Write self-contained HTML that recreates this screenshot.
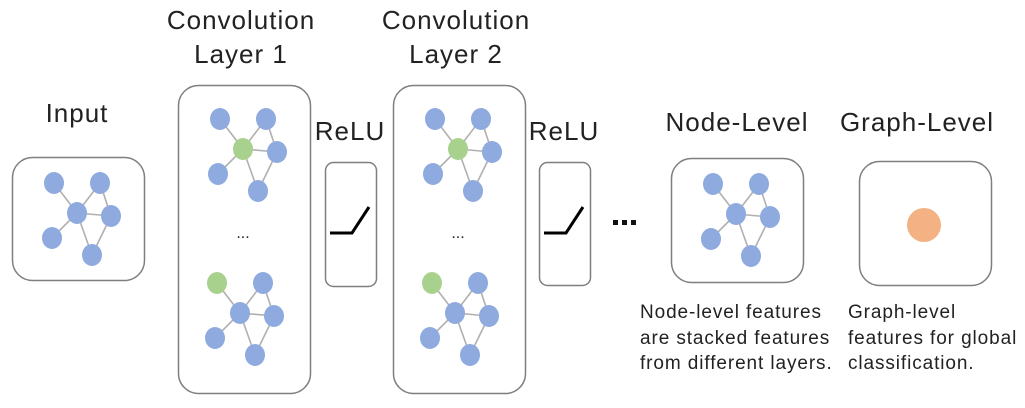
<!DOCTYPE html>
<html><head><meta charset="utf-8"><style>
html,body{margin:0;padding:0;background:#fff;}
svg{display:block;}
text{font-family:"Liberation Sans","Noto Sans CJK SC",sans-serif;fill:#222;}
</style></head><body>
<svg width="1025" height="408" viewBox="0 0 1025 408" xmlns="http://www.w3.org/2000/svg">
<defs>
<g id="edges" stroke="#b0b0b0" stroke-width="1.6">
<line x1="-23" y1="-30" x2="0" y2="0"/><line x1="23" y1="-30" x2="0" y2="0"/>
<line x1="23" y1="-30" x2="34" y2="3"/><line x1="0" y1="0" x2="34" y2="3"/>
<line x1="0" y1="0" x2="-25" y2="25"/><line x1="0" y1="0" x2="15" y2="42"/>
<line x1="34" y1="3" x2="15" y2="42"/>
</g>
<g id="nodesBCDEF" fill="#8eaadf">
<ellipse cx="23" cy="-30" rx="10" ry="11"/>
<ellipse cx="34" cy="3" rx="10" ry="11"/>
<ellipse cx="-25" cy="25" rx="10" ry="11"/>
<ellipse cx="15" cy="42" rx="10" ry="11"/>
</g>
<g id="g"><use href="#edges"/><use href="#nodesBCDEF"/>
<ellipse cx="-23" cy="-30" rx="10" ry="11" fill="#8eaadf"/><ellipse cx="0" cy="0" rx="10" ry="11" fill="#8eaadf"/></g>
<g id="gC"><use href="#edges"/><use href="#nodesBCDEF"/>
<ellipse cx="-23" cy="-30" rx="10" ry="11" fill="#8eaadf"/><ellipse cx="0" cy="0" rx="10" ry="11" fill="#a9d18e"/></g>
<g id="gA"><use href="#edges"/><use href="#nodesBCDEF"/>
<ellipse cx="-23" cy="-30" rx="10" ry="11" fill="#a9d18e"/><ellipse cx="0" cy="0" rx="10" ry="11" fill="#8eaadf"/></g>
</defs>
<g fill="none" stroke="#7f7f7f" stroke-width="1.5">
<rect x="12.5" y="157.5" width="132" height="123" rx="20"/>
<rect x="178.5" y="85.5" width="132" height="308" rx="20"/>
<rect x="325.5" y="162.5" width="51" height="124" rx="8"/>
<rect x="393.5" y="85.5" width="132" height="308" rx="20"/>
<rect x="539.5" y="162.5" width="51" height="123" rx="8"/>
<rect x="671.5" y="158.5" width="132" height="124" rx="20"/>
<rect x="859.5" y="161.5" width="132" height="124" rx="20"/>
</g>
<use href="#g" x="77" y="213"/>
<use href="#gC" x="243" y="149"/>
<use href="#gA" x="240" y="313"/>
<use href="#gC" x="458" y="149"/>
<use href="#gA" x="455" y="313"/>
<use href="#g" x="736" y="214"/>
<circle cx="924" cy="225" r="17" fill="#f4b183"/>
<polyline points="330,233 352,233 369,207" fill="none" stroke="#000" stroke-width="3"/>
<polyline points="544,233 566,233 583,207" fill="none" stroke="#000" stroke-width="3"/>
<text x="243" y="238" font-size="16" text-anchor="middle">...</text>
<text x="458" y="238" font-size="16" text-anchor="middle">...</text>
<g fill="#111"><rect x="613" y="220" width="5" height="5"/><rect x="622" y="220" width="5" height="5"/><rect x="631" y="220" width="5" height="5"/></g>
<g font-size="26" letter-spacing="1" text-anchor="middle">
<text x="77" y="122">Input</text>
<text x="241" y="29">Convolution</text><text x="241" y="63">Layer 1</text>
<text x="456" y="29">Convolution</text><text x="456" y="63">Layer 2</text>
<text x="350" y="140">ReLU</text>
<text x="564" y="140">ReLU</text>
<text x="737" y="131">Node-Level</text>
<text x="917" y="131">Graph-Level</text>
</g>
<g font-size="19" letter-spacing="0.9">
<text x="640" y="318">Node-level features</text>
<text x="640" y="344">are stacked features</text>
<text x="640" y="369">from different layers.</text>
<text x="848" y="318">Graph-level</text>
<text x="848" y="344">features for global</text>
<text x="848" y="369">classification.</text>
</g>
</svg>
</body></html>
